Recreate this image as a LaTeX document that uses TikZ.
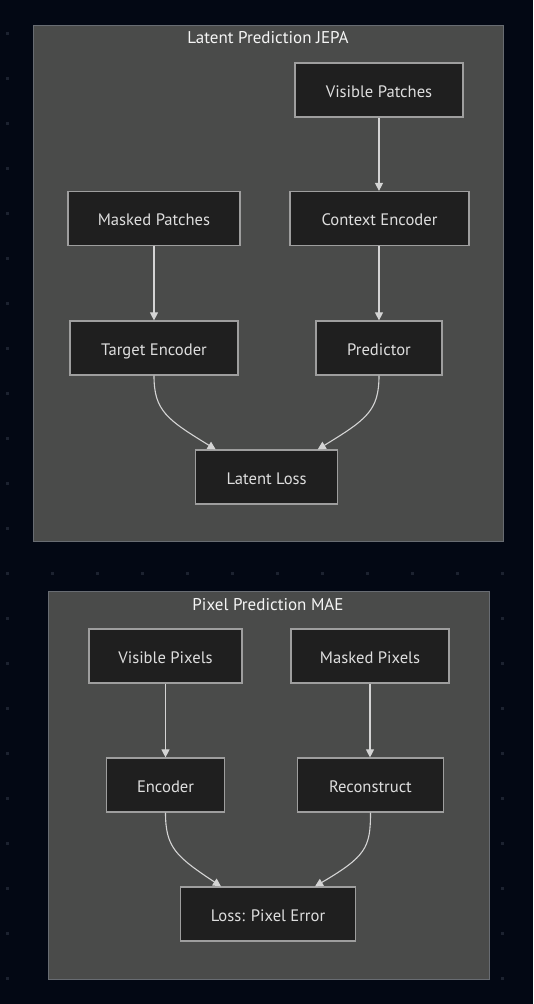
\documentclass[tikz,border=0pt]{standalone}
\usepackage{fontspec}
\setmainfont{PT Sans}
\usetikzlibrary{arrows.meta,calc}
\definecolor{bgc}{RGB}{3,8,20}
\definecolor{dotc}{RGB}{28,34,48}
\definecolor{clfill}{RGB}{74,75,74}
\definecolor{cldraw}{RGB}{104,108,114}
\definecolor{ndfill}{RGB}{31,31,31}
\definecolor{nddraw}{RGB}{158,158,158}
\definecolor{ndtext}{RGB}{222,222,222}
\definecolor{edgec}{RGB}{212,212,212}
\definecolor{titlec}{RGB}{245,245,245}
\tikzset{
  box/.style={draw=nddraw, fill=ndfill, line width=1.2pt, inner sep=0pt, minimum height=54pt,
    text=ndtext, font=\fontsize{16.6}{19}\selectfont, text height=15pt, text depth=1pt, anchor=center},
  cluster/.style={draw=cldraw, fill=clfill, line width=1pt},
  ctitle/.style={text=titlec, font=\fontsize{17}{20}\selectfont, inner sep=0pt},
  arr/.style={draw=edgec, line width=1.1pt, -{Triangle[width=8pt,length=8pt]}},
}
\begin{document}
\begin{tikzpicture}[x=1pt,y=-1pt]
\fill[bgc] (0,0) rectangle (533,1004);
\useasboundingbox (0,0) rectangle (533,1004);
% dot grid
\foreach \i in {0,...,11}{
  \foreach \j in {0,...,21}{
    \fill[dotc] ({7.7+45*\i-1.5},{33.3+45*\j-1.5}) rectangle +(3,3);
  }
}
% clusters
\draw[cluster] (33,25) rectangle (503.5,541);
\node[ctitle] (t1) at (268,38) {Latent Prediction JEPA};
\draw[cluster] (48,591) rectangle (489,979);
\node[ctitle] (t2) at (268,605) {Pixel Prediction MAE};
% nodes JEPA
\node[box, minimum width=168pt] (vp) at (379,90) {Visible Patches};
\node[box, minimum width=172pt] (mp) at (154,218.5) {Masked Patches};
\node[box, minimum width=179pt] (ce) at (379.5,218.5) {Context Encoder};
\node[box, minimum width=168pt] (te) at (154,348) {Target Encoder};
\node[box, minimum width=126pt] (pr) at (379,348) {Predictor};
\node[box, minimum width=142pt] (ll) at (266.7,477) {Latent Loss};
% nodes MAE
\node[box, minimum width=153pt] (vx) at (165.5,656) {Visible Pixels};
\node[box, minimum width=158pt] (mx) at (370,656) {Masked Pixels};
\node[box, minimum width=118pt] (en) at (165.5,785) {Encoder};
\node[box, minimum width=145.5pt] (re) at (370.5,785) {Reconstruct};
\node[box, minimum width=175.5pt] (le) at (268,914) {Loss: Pixel Error};
% edges JEPA
\draw[arr] (vp.south) -- (ce.north -| vp.south);
\draw[arr] (mp.south) -- (te.north);
\draw[arr] (ce.south -| pr.north) -- (pr.north);
\draw[arr] (te.south) .. controls ($(te.south)+(0,35)$) and ($(ll.north)+(-100,-30)$) .. ($(ll.north)+(-51,0)$);
\draw[arr] (pr.south) .. controls ($(pr.south)+(0,35)$) and ($(ll.north)+(100,-30)$) .. ($(ll.north)+(51,0)$);
% edges MAE
\draw[arr] (vx.south) -- (en.north);
\draw[arr] (mx.south) -- (re.north -| mx.south);
\draw[arr] (en.south) .. controls ($(en.south)+(0,35)$) and ($(le.north)+(-92,-30)$) .. ($(le.north)+(-47,0)$);
\draw[arr] (re.south) .. controls ($(re.south)+(0,35)$) and ($(le.north)+(98,-30)$) .. ($(le.north)+(47,0)$);
\end{tikzpicture}
\end{document}
